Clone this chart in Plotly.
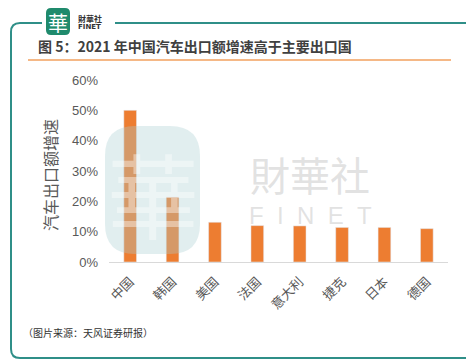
import plotly.graph_objects as go

categories = ["中国", "韩国", "美国", "法国", "意大利", "捷克", "日本", "德国"]
growth = [0.50, 0.214, 0.131, 0.120, 0.119, 0.114, 0.114, 0.110]
title_text = "图 5：2021 年中国汽车出口额增速高于主要出口国"
y_title = "汽车出口额增速"
source_text = "（图片来源：天风证券研报）"

W, H = 474, 364
L, R, T, B = 101, 34, 72, 110
PW, PH = W - L - R, H - T - B
CJK = "Noto Sans CJK SC"


def xp(px):
    return (px - L) / PW


def yp(py):
    return (H - B - py) / PH


def rrect(x0, x1, y0, y1, r):
    return (f"M {xp(x0+r)},{yp(y0)} L {xp(x1-r)},{yp(y0)} Q {xp(x1)},{yp(y0)} {xp(x1)},{yp(y0+r)} "
            f"L {xp(x1)},{yp(y1-r)} Q {xp(x1)},{yp(y1)} {xp(x1-r)},{yp(y1)} "
            f"L {xp(x0+r)},{yp(y1)} Q {xp(x0)},{yp(y1)} {xp(x0)},{yp(y1-r)} "
            f"L {xp(x0)},{yp(y0+r)} Q {xp(x0)},{yp(y0)} {xp(x0+r)},{yp(y0)} Z")


fig = go.Figure()
fig.add_trace(go.Bar(x=categories, y=growth, marker_color="#ED7D31", width=0.3))

shapes = []
annotations = []

# frame with gap for logo
x0, x1, y0, y1, r = 3, 471.5, 15, 350, 9
path = (f"M {xp(107)},{yp(y0)} L {xp(x1-r)},{yp(y0)} Q {xp(x1)},{yp(y0)} {xp(x1)},{yp(y0+r)} "
        f"L {xp(x1)},{yp(y1-r)} Q {xp(x1)},{yp(y1)} {xp(x1-r)},{yp(y1)} "
        f"L {xp(x0+r)},{yp(y1)} Q {xp(x0)},{yp(y1)} {xp(x0)},{yp(y1-r)} "
        f"L {xp(x0)},{yp(y0+r)} Q {xp(x0)},{yp(y0)} {xp(x0+r)},{yp(y0)} L {xp(34)},{yp(y0)}")
shapes.append(dict(type="path", xref="paper", yref="paper", path=path,
                   line=dict(color="#2f8f88", width=2)))
# orange rule under title
shapes.append(dict(type="line", xref="paper", yref="paper", x0=xp(20), x1=xp(443),
                   y0=yp(52), y1=yp(52), line=dict(color="#F2A15E", width=1.5)))
# logo box
shapes.append(dict(type="path", xref="paper", yref="paper", path=rrect(38, 62, 0, 27, 5),
                   fillcolor="#1f8a6c", line=dict(width=0)))
# watermark blob
shapes.append(dict(type="path", xref="paper", yref="paper", path=rrect(97, 192, 118, 246, 30),
                   layer="above", fillcolor="rgba(170,205,210,0.35)", line=dict(width=0)))

annotations.append(dict(xref="paper", yref="paper", x=xp(145), y=yp(183), text="華",
                        showarrow=False, font=dict(family=CJK, size=92, color="rgba(255,255,255,0.4)"),
                        xanchor="center", yanchor="middle"))
annotations.append(dict(xref="paper", yref="paper", x=xp(50), y=yp(14), text="華",
                        showarrow=False, font=dict(family=CJK, size=20, color="white"),
                        xanchor="center", yanchor="middle"))
annotations.append(dict(xref="paper", yref="paper", x=xp(68), y=yp(10), text="<b>財華社</b>",
                        showarrow=False, font=dict(family=CJK, size=8, color="#333333"),
                        xanchor="left", yanchor="middle"))
annotations.append(dict(xref="paper", yref="paper", x=xp(68), y=yp(19), text="<b>FINET</b>",
                        showarrow=False, font=dict(family="DejaVu Sans", size=7, color="#333333"),
                        xanchor="left", yanchor="middle"))
annotations.append(dict(xref="paper", yref="paper", x=xp(302), y=yp(166), text="財華社",
                        showarrow=False, font=dict(family=CJK, size=40, color="rgba(190,190,190,0.45)"),
                        xanchor="center", yanchor="middle"))
annotations.append(dict(xref="paper", yref="paper", x=xp(302), y=yp(207),
                        text="F&#160;&#160;I&#160;&#160;N&#160;&#160;E&#160;&#160;T",
                        showarrow=False, font=dict(family="Liberation Sans", size=24,
                                                   color="rgba(190,190,190,0.45)"),
                        xanchor="center", yanchor="middle"))
annotations.append(dict(xref="paper", yref="paper", x=xp(28), y=yp(38), text=f"<b>{title_text}</b>",
                        showarrow=False, font=dict(family=CJK, size=14, color="#404040"),
                        xanchor="left", yanchor="middle"))
annotations.append(dict(xref="paper", yref="paper", x=xp(42), y=yp(167), text=y_title, textangle=-90,
                        showarrow=False, font=dict(family=CJK, size=16, color="#595959"),
                        xanchor="center", yanchor="middle"))
annotations.append(dict(xref="paper", yref="paper", x=xp(13), y=yp(324), text=source_text,
                        showarrow=False, font=dict(family=CJK, size=10, color="#333333"),
                        xanchor="left", yanchor="middle"))

fig.update_layout(
    width=W, height=H,
    margin=dict(l=L, r=R, t=T, b=B),
    paper_bgcolor="white", plot_bgcolor="white",
    showlegend=False,
    shapes=shapes, annotations=annotations,
    xaxis=dict(showgrid=False, showline=True, linecolor="#D9D9D9", linewidth=1,
               tickangle=-45, tickfont=dict(family=CJK, size=13, color="#595959"),
               automargin=False, ticks="", ticklabelstandoff=6),
    yaxis=dict(range=[0, 0.6], dtick=0.1, tickformat=".0%", showgrid=False, zeroline=False,
               showline=False, tickfont=dict(family="Liberation Sans", size=13, color="#595959"),
               automargin=False, ticks="", ticklabelstandoff=10),
)

fig.write_html("out.html")
